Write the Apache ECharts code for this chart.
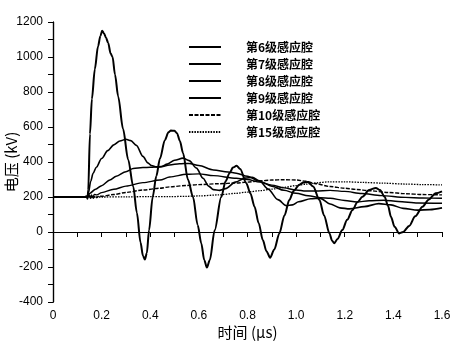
<!DOCTYPE html>
<html>
<head>
<meta charset="utf-8">
<script src="https://cdn.jsdelivr.net/npm/echarts@6/dist/echarts.min.js"></script>
<style>
  html, body { margin: 0; padding: 0; background: #fff; }
  #chart { width: 474px; height: 344px; }
</style>
</head>
<body>
<div id="chart"></div>
<script>
// Voltage waveforms at the output of induction cavities: [time (µs), voltage (kV)]
const seriesNames = ['第6级感应腔', '第7级感应腔', '第8级感应腔', '第9级感应腔', '第10级感应腔', '第15级感应腔'];

const cav6 = [
  [0, 200], [0.13, 200], [0.138, 205], [0.142, 190], [0.145, 240], [0.152, 560], [0.16, 760],
  [0.172, 930], [0.185, 1060], [0.195, 1120], [0.202, 1150], [0.21, 1135], [0.218, 1110],
  [0.227, 1080], [0.237, 1020], [0.245, 1000], [0.255, 900], [0.268, 775], [0.288, 590],
  [0.309, 415], [0.33, 260], [0.345, 110], [0.36, -60], [0.37, -135], [0.378, -157],
  [0.386, -120], [0.395, 10], [0.41, 200], [0.425, 320], [0.44, 420], [0.46, 525],
  [0.475, 570], [0.485, 580], [0.5, 578], [0.51, 565], [0.522, 520], [0.535, 450],
  [0.555, 300], [0.576, 200], [0.595, 40], [0.61, -65], [0.622, -160], [0.633, -203],
  [0.645, -160], [0.665, 10], [0.692, 200], [0.71, 290], [0.726, 336], [0.74, 368],
  [0.755, 378], [0.77, 360], [0.795, 279], [0.812, 220], [0.829, 145], [0.846, 50],
  [0.863, -46], [0.878, -110], [0.893, -147], [0.91, -100], [0.931, -8], [0.952, 95],
  [0.972, 183], [0.99, 235], [1.013, 270], [1.03, 283], [1.048, 286], [1.07, 260],
  [1.096, 183], [1.115, 95], [1.137, -8], [1.148, -50], [1.157, -64], [1.17, -40],
  [1.19, 11], [1.21, 70], [1.232, 126], [1.252, 170], [1.273, 202], [1.3, 240],
  [1.328, 252], [1.345, 240], [1.364, 202], [1.378, 150], [1.39, 87], [1.405, 30],
  [1.424, -8], [1.44, 0], [1.465, 35], [1.49, 90], [1.52, 145], [1.545, 185],
  [1.574, 221], [1.6, 232]
];

const cav7 = [
  [0, 200], [0.14, 200], [0.146, 225], [0.155, 290], [0.165, 335], [0.178, 370],
  [0.2, 420], [0.225, 465], [0.25, 498], [0.275, 520], [0.3, 530], [0.32, 522],
  [0.343, 495], [0.37, 432], [0.39, 395], [0.405, 380], [0.425, 372], [0.445, 374],
  [0.47, 388], [0.5, 410], [0.535, 422], [0.56, 408], [0.59, 365], [0.617, 307],
  [0.64, 262], [0.66, 242], [0.685, 238], [0.71, 248], [0.75, 285], [0.79, 308],
  [0.82, 312], [0.85, 292], [0.885, 245], [0.925, 185], [0.96, 150], [0.985, 155],
  [1.01, 173], [1.06, 190], [1.1, 192], [1.14, 160], [1.18, 138], [1.22, 132],
  [1.28, 145], [1.34, 162], [1.39, 155], [1.44, 135], [1.5, 125], [1.55, 128], [1.6, 138]
];

const cav8 = [
  [0, 200], [0.14, 200], [0.146, 212], [0.152, 222], [0.175, 245], [0.2, 265],
  [0.234, 297], [0.26, 318], [0.3, 345], [0.33, 363], [0.37, 368], [0.4, 370],
  [0.44, 372], [0.48, 383], [0.52, 390], [0.56, 392], [0.6, 380], [0.66, 355],
  [0.72, 343], [0.754, 336], [0.8, 318], [0.85, 290], [0.9, 262], [0.95, 238],
  [1.0, 221], [1.05, 207], [1.1, 196], [1.14, 193], [1.2, 180], [1.25, 172],
  [1.3, 178], [1.36, 182], [1.42, 175], [1.5, 166], [1.6, 164]
];

const cav9 = [
  [0, 200], [0.14, 200], [0.148, 210], [0.153, 196], [0.158, 212], [0.164, 198],
  [0.17, 215], [0.18, 212], [0.2, 225], [0.25, 244], [0.3, 262], [0.37, 282],
  [0.44, 297], [0.48, 314], [0.55, 330], [0.6, 332], [0.66, 322], [0.754, 307],
  [0.8, 300], [0.85, 285], [0.9, 268], [0.95, 252], [1.0, 240], [1.04, 234],
  [1.08, 234], [1.14, 238], [1.2, 232], [1.27, 220], [1.35, 208], [1.45, 198],
  [1.52, 194], [1.6, 193]
];

const cav10 = [
  [0, 200], [0.14, 200], [0.15, 206], [0.155, 192], [0.16, 209], [0.166, 193],
  [0.172, 206], [0.18, 196], [0.19, 206], [0.2, 204], [0.25, 214], [0.3, 226],
  [0.37, 240], [0.44, 250], [0.48, 258], [0.55, 266], [0.6, 271], [0.68, 276],
  [0.754, 280], [0.8, 285], [0.85, 292], [0.9, 297], [0.95, 299], [1.0, 297],
  [1.04, 290], [1.08, 276], [1.14, 260], [1.2, 250], [1.25, 243], [1.3, 236],
  [1.38, 226], [1.45, 219], [1.52, 214], [1.6, 212]
];

const cav15 = [
  [0, 200], [0.15, 200], [0.2, 200], [0.3, 201], [0.4, 202], [0.48, 202],
  [0.55, 204], [0.6, 206], [0.68, 212], [0.754, 221], [0.8, 228], [0.85, 236],
  [0.9, 245], [0.95, 255], [1.0, 265], [1.04, 273], [1.08, 281], [1.14, 287],
  [1.2, 287], [1.28, 283], [1.36, 279], [1.45, 274], [1.52, 271], [1.6, 269]
];

// Axis ranges and tick steps
const xRange = [0, 1.6];
const xStep = 0.2;
const yRange = [-400, 1200];
const yStep = 200;

const allData = [cav6, cav7, cav8, cav9, cav10, cav15];
const lineStyles = [
  { width: 2, type: 'solid' },
  { width: 1.6, type: 'solid' },
  { width: 1.5, type: 'solid' },
  { width: 1.4, type: 'solid' },
  { width: 1.4, type: [4, 1.5] },
  { width: 1.3, type: [1.5, 1.2] }
];

const chart = echarts.init(document.getElementById('chart'), null, { renderer: 'canvas' });

const labelFont = { color: '#000', fontSize: 12, fontFamily: 'Liberation Sans, Arial, sans-serif' };
const nameFont = { color: '#000', fontSize: 15, fontFamily: '"Noto Sans CJK SC", "Liberation Sans", sans-serif' };

chart.setOption({
  animation: false,
  backgroundColor: '#fff',
  grid: { left: 53, right: 32, top: 22, bottom: 42, containLabel: false, outerBoundsMode: 'none' },
  legend: {
    orient: 'vertical',
    left: 188,
    top: 41,
    padding: 0,
    itemWidth: 32,
    itemHeight: 12,
    itemGap: 5,
    data: seriesNames,
    itemStyle: { opacity: 0 },
    textStyle: {
      color: '#000', fontSize: 12, fontWeight: 'bold',
      fontFamily: '"Noto Sans CJK SC", sans-serif',
      padding: [0, 0, 0, 20]
    }
  },
  xAxis: [
    {
      type: 'value', min: xRange[0], max: xRange[1], interval: xStep,
      name: '时间 (μs)', nameLocation: 'middle', nameGap: 23, nameMoveOverlap: false,
      nameTextStyle: nameFont,
      axisLine: { lineStyle: { color: '#000', width: 1.2 } },
      axisTick: { inside: false, length: 5, lineStyle: { color: '#000' } },
      minorTick: { show: true, splitNumber: 2, length: 3, lineStyle: { color: '#000' } },
      axisLabel: { ...labelFont, margin: 8, formatter: v => (v === 0 ? '0' : v.toFixed(1)) },
      splitLine: { show: false }
    },
    {
      type: 'value', position: 'top', min: xRange[0], max: xRange[1], interval: 0.1,
      axisLine: { lineStyle: { color: '#000', width: 1.2 } },
      axisTick: { inside: true, length: 5, lineStyle: { color: '#000' } },
      axisLabel: { show: false },
      splitLine: { show: false }
    }
  ],
  yAxis: [
    {
      type: 'value', min: yRange[0], max: yRange[1], interval: yStep,
      name: '电压 (kV)', nameLocation: 'middle', nameGap: 34, nameMoveOverlap: false,
      nameTextStyle: nameFont,
      axisLine: { show: true, lineStyle: { color: '#000', width: 1.2 } },
      axisTick: { show: true, inside: false, length: 5, lineStyle: { color: '#000' } },
      minorTick: { show: true, splitNumber: 2, length: 3, lineStyle: { color: '#000' } },
      axisLabel: { ...labelFont, margin: 10, formatter: v => String(v) },
      splitLine: { show: false }
    },
    {
      type: 'value', position: 'right', min: yRange[0], max: yRange[1], interval: 100,
      axisLine: { show: true, lineStyle: { color: '#000', width: 1.2 } },
      axisTick: { show: true, inside: true, length: 5, lineStyle: { color: '#000' } },
      axisLabel: { show: false },
      splitLine: { show: false }
    }
  ],
  series: seriesNames.map((name, i) => ({
    name,
    type: 'line',
    data: allData[i],
    xAxisIndex: 0,
    yAxisIndex: 0,
    symbol: 'none',
    smooth: 0.3,
    smoothMonotone: 'x',
    z: 10 - i,
    color: '#000',
    lineStyle: { color: '#000', width: lineStyles[i].width, type: lineStyles[i].type }
  }))
});
</script>
</body>
</html>
